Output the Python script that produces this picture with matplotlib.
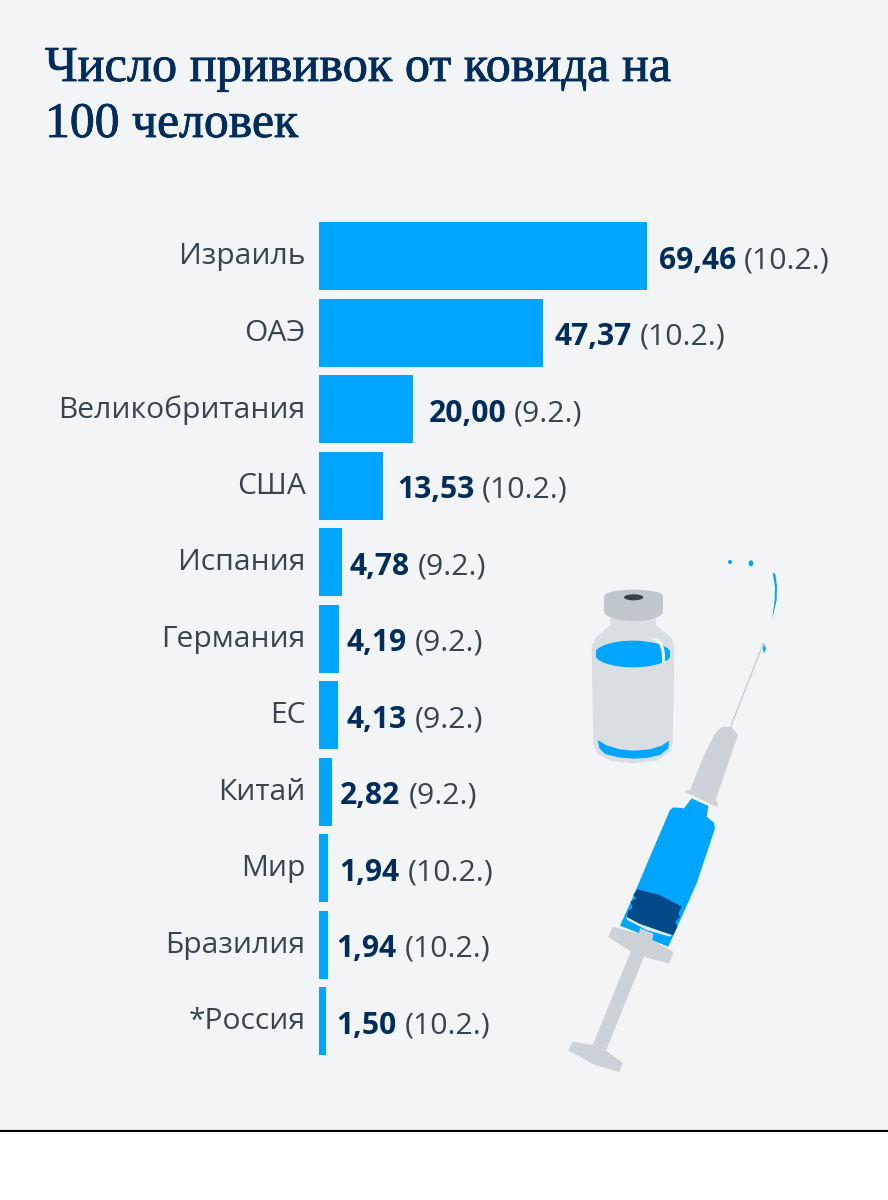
import matplotlib
matplotlib.use("Agg")
import matplotlib.pyplot as plt
import matplotlib.patheffects as pe
from matplotlib.patches import Polygon, Ellipse, Rectangle

# data
countries = ["Израиль", "ОАЭ", "Великобритания", "США", "Испания", "Германия",
             "ЕС", "Китай", "Мир", "Бразилия", "*Россия"]
doses = [69.46, 47.37, 20.00, 13.53, 4.78, 4.19, 4.13, 2.82, 1.94, 1.94, 1.50]
dose_labels = ["69,46", "47,37", "20,00", "13,53", "4,78", "4,19", "4,13", "2,82", "1,94", "1,94", "1,50"]
dates = ["(10.2.)", "(10.2.)", "(9.2.)", "(10.2.)", "(9.2.)", "(9.2.)",
         "(9.2.)", "(9.2.)", "(10.2.)", "(10.2.)", "(10.2.)"]

# layout, in pixels
W, H = 888, 1200
BG = "#f2f4f6"
BLUE = "#00a5ff"
NAVY = "#002d5c"
GREY_TEXT = "#3a444f"
label_gaps = [12, 12, 15, 14, 8, 8, 8, 8, 11, 8, 10]
PX_PER_UNIT = 4.72

fig = plt.figure(figsize=(W / 100, H / 100), dpi=100, facecolor="white")

# background and illustration share one axes in pixel coordinates
bg = fig.add_axes([0, 0, 1, 1])
bg.set_xlim(0, W)
bg.set_ylim(H, 0)
bg.axis("off")
bg.add_patch(Rectangle((0, 0), W, 1130, color=BG, lw=0))
bg.plot([0, W], [1130.5, 1130.5], color="black", lw=1.5, solid_capstyle="butt")

bg.text(45, 81, "Число прививок от ковида на", family="Liberation Serif", fontsize=36.2,
        color=NAVY, path_effects=[pe.withStroke(linewidth=0.6, foreground=NAVY)])
bg.text(45, 137, "100 человек", family="Liberation Serif", fontsize=35.8,
        color=NAVY, path_effects=[pe.withStroke(linewidth=0.6, foreground=NAVY)])


def poly(points, color, ox, oy):
    pts = [(ox + x / 3, oy + y / 3) for x, y in points]
    bg.add_patch(Polygon(pts, closed=True, facecolor=color, edgecolor="none", joinstyle="round"))


def ell(cx, cy, w, h, color, ox=540, oy=540):
    p = Ellipse((ox + cx / 3, oy + cy / 3), w / 3, h / 3, facecolor=color, edgecolor="none")
    bg.add_patch(p)
    return p


VIAL = "#d9dee2"
CAP = "#bfc6cc"
SYR = "#ccd2d7"

# vial
poly([(210, 235), (210, 255), (165, 295), (155, 320), (160, 610), (170, 640), (210, 662), (280, 670),
      (350, 662), (390, 635), (398, 610), (403, 320), (395, 295), (348, 255), (348, 235)], VIAL, 540, 540)
liquid = ell(279, 342, 230, 80, BLUE)
liquid.set_clip_path(Rectangle((540 + 167 / 3, 540 + 290 / 3), 223 / 3, 100 / 3, transform=bg.transData))
poly([(330, 294), (350, 297), (368, 310), (375, 340), (374, 370), (367, 370), (365, 335), (358, 312), (345, 300)],
     "white", 540, 540)
poly([(173, 600), (200, 616), (240, 628), (280, 632), (330, 628), (365, 617), (387, 602), (385, 625), (360, 645),
      (320, 654), (280, 656), (235, 652), (195, 642), (178, 625)], BLUE, 540, 540)
bg.add_patch(Rectangle((540 + 193 / 3, 540 + 168 / 3), 176 / 3, 47 / 3, facecolor=CAP, edgecolor="none"))
ell(281, 168, 176, 38, CAP)
ell(281, 215, 176, 56, CAP)
ell(281, 172, 58, 18, "#37424a")

# splashes at the needle tip
ell(570, 66, 12, 12, BLUE)
ell(633, 70, 14, 18, BLUE)
poly([(698, 98), (706, 102), (711, 140), (710, 180), (696, 240), (704, 180), (705, 140)], BLUE, 540, 540)
poly([(672, 312), (678, 325), (672, 340), (668, 328)], BLUE, 540, 540)

# needle and hub
bg.plot([540 + 670 / 3, 540 + 572 / 3], [540 + 310 / 3, 540 + 560 / 3], color="#c3cad0", lw=0.9)
poly([(545, 560), (575, 562), (594, 585), (525, 785), (450, 750), (490, 650), (525, 580)], SYR, 540, 540)

# barrel
poly([(455, 55), (505, 78), (500, 110), (522, 128), (525, 145), (470, 310), (385, 500), (335, 480), (340, 462),
      (300, 445), (298, 460), (240, 437), (275, 360), (330, 230), (390, 90), (400, 82), (432, 85)], BLUE, 540, 780)
poly([(292, 328), (360, 345), (425, 380), (415, 400), (420, 412), (405, 425), (412, 440), (400, 465), (330, 450),
      (260, 412), (265, 392), (278, 385), (272, 365), (290, 355), (280, 345)], "#024a87", 540, 780)
poly([(258, 410), (300, 432), (395, 465), (390, 470), (320, 450), (262, 420)], "#e6e9ec", 540, 780)
poly([(433, 35), (447, 30), (533, 65), (533, 80), (525, 78)], SYR, 540, 780)

# plunger
poly([(218, 440), (298, 462), (335, 480), (400, 515), (388, 550), (320, 533), (265, 510), (205, 472)], SYR, 540, 780)
poly([(300, 445), (340, 462), (335, 490), (312, 530), (198, 812), (158, 795), (272, 515), (295, 480)], SYR, 540, 780)
poly([(97, 785), (160, 795), (198, 812), (248, 848), (237, 876), (165, 855), (85, 812)], SYR, 540, 780)

# bars: one unit of y is one row, x runs in doses per 100 people
top, bottom, left = 218.0, 1059.5, 319
ax = fig.add_axes([left / W, 1 - bottom / H, (W - left) / W, (bottom - top) / H])
ax.set_xlim(0, (W - left) / PX_PER_UNIT)
ax.set_ylim(len(countries) - 0.5, -0.5)
ax.axis("off")
ax.patch.set_alpha(0)

rows = list(range(len(countries)))
ax.barh(rows, doses, height=0.895, color=BLUE, lw=0)

renderer = fig.canvas.get_renderer()
for i, name in enumerate(countries):
    ax.annotate(name, (0, i), xytext=(-13.5 * 0.72, -0.5 * 0.72), textcoords="offset points", ha="right", va="center",
                family="Open Sans", fontsize=21.6, color=GREY_TEXT)
    val = ax.annotate(dose_labels[i], (doses[i], i), xytext=(label_gaps[i] * 0.72, -4.5 * 0.72),
                      textcoords="offset points", ha="left", va="center",
                      family="Open Sans", fontsize=21.6, fontweight="bold", color=NAVY)
    # the date follows the bold number
    w = val.get_window_extent(renderer).width
    ax.annotate(dates[i], (doses[i], i), xytext=((label_gaps[i] + w + 8) * 0.72, -4.5 * 0.72),
                textcoords="offset points", ha="left", va="center",
                family="Open Sans", fontsize=21.7, color=GREY_TEXT)

fig.savefig("out.png", dpi=100, facecolor=fig.get_facecolor())
